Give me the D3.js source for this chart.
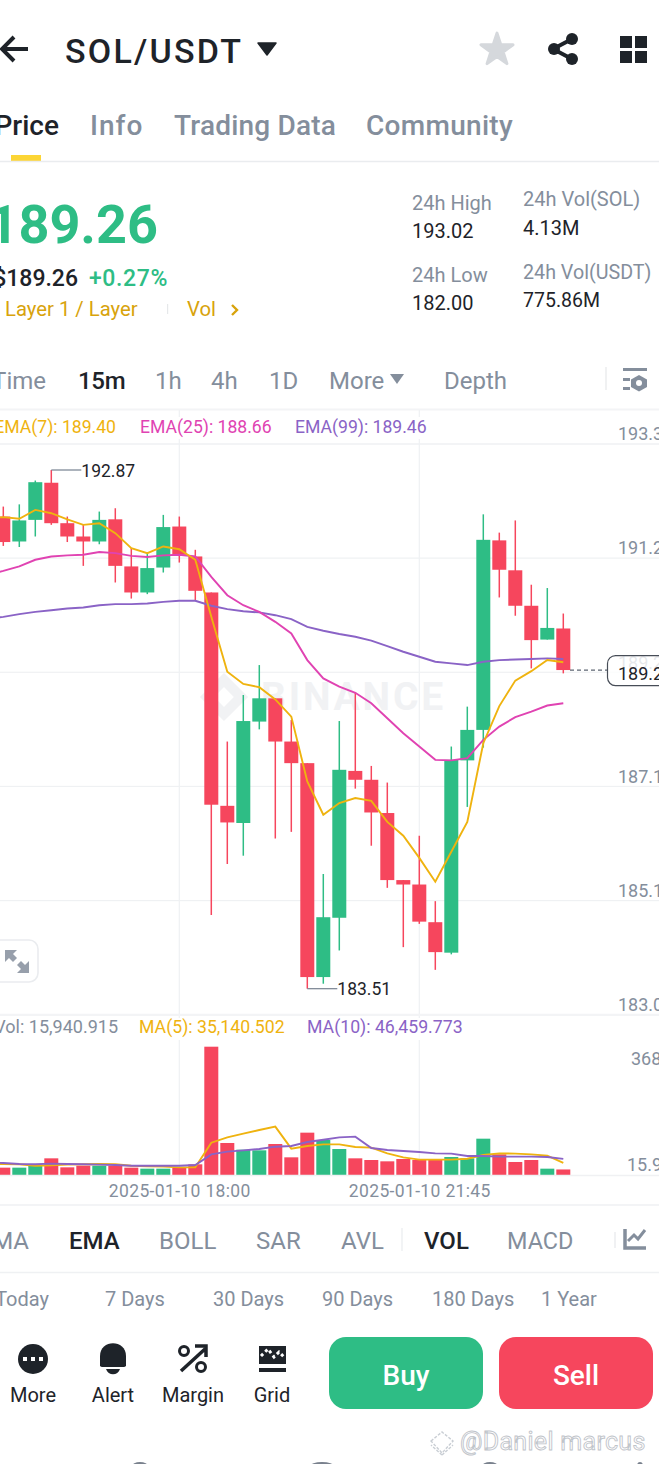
<!DOCTYPE html>
<html>
<head>
<meta charset="utf-8">
<script src="https://cdn.jsdelivr.net/npm/d3@7/dist/d3.min.js"></script>
<style>
html, body { margin: 0; padding: 0; background: #fff; overflow: hidden; }
svg { display: block; }
text { font-family: Roboto, sans-serif; }
</style>
</head>
<body>
<svg id="chart" width="659" height="1464" viewBox="0 0 659 1464"></svg>
<script>
// candles, oldest first (15m)
var opens  = [192.03,191.58,191.97,192.64,191.91,191.67,191.58,191.98,191.13,190.66,191.11,191.85,191.31,190.66,186.81,186.50,188.33,188.75,187.97,187.58,183.72,184.79,187.44,187.28,186.68,185.47,185.39,184.71,184.16,187.63,188.18,191.60,191.06,190.42,189.81,190.01];
var closes = [191.57,191.96,192.65,191.91,191.67,191.58,191.97,191.14,190.66,191.10,191.84,191.34,190.69,186.83,186.51,188.34,188.75,187.97,187.58,183.72,184.80,187.46,187.28,186.69,185.47,185.39,184.72,184.17,187.64,188.18,191.61,191.07,190.42,189.80,190.02,189.26];
var highs  = [192.21,192.25,192.68,192.87,192.03,191.88,192.12,192.18,191.46,191.37,192.06,192.03,191.43,190.66,187.97,188.81,189.35,188.75,188.36,187.58,185.58,188.34,188.86,187.53,187.23,185.47,186.27,185.09,187.88,188.60,192.07,191.74,191.96,190.80,190.74,190.28];
var lows   = [191.50,191.48,191.67,191.88,191.57,191.14,191.53,190.84,190.55,190.63,191.02,191.20,190.52,184.84,185.76,185.91,188.19,186.22,186.34,183.51,183.60,184.20,187.12,186.09,185.33,184.26,184.68,183.85,184.13,186.79,187.86,190.57,190.24,189.29,189.81,189.20];

// the first value of each line belongs to the candle just off the left edge
var ema7  = [192.00,192.02,191.99,192.15,192.09,191.98,191.88,191.91,191.73,191.46,191.37,191.49,191.44,191.25,190.22,189.23,189.01,188.95,188.73,188.42,187.25,186.65,186.86,186.95,186.90,186.52,186.27,185.87,185.44,185.98,186.52,187.94,188.61,189.07,189.24,189.44,189.40];
var ema25 = [190.98,191.05,191.13,191.25,191.31,191.33,191.34,191.39,191.37,191.32,191.30,191.33,191.34,191.31,190.94,190.61,190.43,190.31,190.13,189.92,189.44,189.11,188.96,188.85,188.66,188.39,188.12,187.88,187.64,187.63,187.67,188.00,188.24,188.41,188.51,188.62,188.66];
var ema99 = [190.18,190.22,190.27,190.31,190.34,190.37,190.39,190.43,190.45,190.45,190.46,190.49,190.51,190.51,190.42,190.36,190.32,190.30,190.25,190.18,190.04,189.97,189.91,189.86,189.79,189.69,189.59,189.50,189.41,189.38,189.35,189.41,189.44,189.45,189.46,189.47,189.46];

// volume in thousands
var volumes = [21.1,21.1,25.9,47.9,22.0,26.8,26.8,26.8,21.1,18.2,18.2,21.1,30.7,368.8,92.0,72.8,70.9,89.1,50.8,121.7,100.6,74.7,47.9,43.1,39.3,46.0,43.1,43.1,51.7,47.9,104.4,59.4,37.4,43.1,18.2,15.94];
var ma5  = [31.0,31.6,30.7,26.8,27.8,29.7,30.7,31.6,30.7,26.8,24.9,24.0,22.0,22.0,92.9,108.3,118.8,129.3,138.9,75.7,83.3,88.1,88.1,80.5,78.6,62.3,50.8,44.1,44.1,44.1,46.9,57.5,62.3,61.3,59.4,55.6,35.14];
var ma10 = [36.0,34.5,31.6,30.7,32.6,31.6,30.7,29.7,28.7,26.8,26.8,26.8,26.8,28.7,59.4,67.1,70.9,74.7,81.4,83.3,94.8,101.5,108.3,110.2,77.6,71.9,69.0,66.1,62.3,61.3,54.6,54.6,52.7,52.7,52.7,51.7,46.46];

var priceTicks = [193.34,191.28,189.22,187.16,185.10,183.04];
var volTicks = [368.8,15.94];
var volLabels = ["368.807K","15.940K"];
var dateIdx = [11,26];
var dateLabels = ["2025-01-10 18:00","2025-01-10 21:45"];
var lastPrice = 189.26;
var maxPrice = 192.87;
var minPrice = 183.51;

var GREEN = "#2ebd85", RED = "#f6465d", DARK = "#1e2329", GRAY = "#848e9c", LINE = "#eff1f3";
var YEL = "#efb30f", PINK = "#e043b2", PUR = "#8a63c6", GOLD = "#d8a30c";

var svg = d3.select("#chart");
var n = opens.length;
var x = d3.scaleLinear().domain([0, 35]).range([3.3, 563.3]);
var y = d3.scaleLinear().domain([192.87, 183.51]).range([470, 988.7]);
var v = d3.scaleLinear().domain([0, 368.8]).range([1175, 1046.7]);

function txt(px, py, s, size, fill, weight, anchor) {
    return svg.append("text").attr("x", px).attr("y", py).text(s)
        .attr("font-size", size).attr("fill", fill)
        .attr("font-weight", weight || 400).attr("text-anchor", anchor || "start");
}
function hline(py, w, c) {
    svg.append("rect").attr("x", 0).attr("y", py - w / 2).attr("width", 659).attr("height", w).attr("fill", c);
}
function vline(px, y0, y1, c) {
    svg.append("line").attr("x1", px).attr("x2", px).attr("y1", y0).attr("y2", y1).attr("stroke", c).attr("stroke-width", 1.2);
}

// header
svg.append("path").attr("d", "M28 49H2M14 37L2 49L14 61").attr("fill", "none").attr("stroke", DARK).attr("stroke-width", 4);
txt(65, 63, "SOL/USDT", 34, DARK, 500).attr("letter-spacing", 2.2);
svg.append("path").attr("d", "M258 43H276L267 55Z").attr("fill", DARK).attr("stroke", DARK).attr("stroke-width", 1.5).attr("stroke-linejoin", "round");
svg.append("path").attr("transform", "translate(497,50)").attr("d", d3.symbol(d3.symbolStar, 320)())
    .attr("fill", "#d5d8dc").attr("stroke", "#d5d8dc").attr("stroke-width", 3).attr("stroke-linejoin", "round");
svg.append("path").attr("d", "M572 39L553 49L572 59").attr("fill", "none").attr("stroke", DARK).attr("stroke-width", 4);
[[572, 39], [554, 49], [572, 59]].forEach(function (c) {
    svg.append("circle").attr("cx", c[0]).attr("cy", c[1]).attr("r", 6).attr("fill", DARK);
});
[[620, 36], [635, 36], [620, 51], [635, 51]].forEach(function (c) {
    svg.append("rect").attr("x", c[0]).attr("y", c[1]).attr("width", 12).attr("height", 12).attr("fill", DARK);
});

// tabs
txt(59, 135, "Price", 28, DARK, 500, "end");
txt(90, 135, "Info", 28, GRAY, 500).attr("letter-spacing", 1);
txt(174, 135, "Trading Data", 28, GRAY, 500).attr("letter-spacing", 0.2);
txt(366, 135, "Community", 28, GRAY, 500).attr("letter-spacing", 0.3);
svg.append("rect").attr("x", 11).attr("y", 155).attr("width", 30).attr("height", 6).attr("fill", "#fcd535");
hline(161.5, 1.5, "#eaecef");

// price block
txt(158, 243, "189.26", 54, GREEN, 700, "end");
txt(78, 286, "$189.26", 23, DARK, 500, "end");
txt(89, 286, "+0.27%", 23, GREEN, 500).attr("letter-spacing", 0.6);
txt(5, 316, "Layer 1 / Layer", 20.3, GOLD);
svg.append("rect").attr("x", 167).attr("y", 304).attr("width", 1.2).attr("height", 10).attr("fill", "#e6e8ea");
txt(187, 316, "Vol", 20.3, GOLD);
svg.append("path").attr("d", "M232 305L237 310L232 315").attr("fill", "none").attr("stroke", GOLD).attr("stroke-width", 2.4);

txt(412, 210, "24h High", 20, GRAY);
txt(412, 238, "193.02", 20, DARK);
txt(412, 282, "24h Low", 20, GRAY);
txt(412, 310, "182.00", 20, DARK);
txt(523, 206, "24h Vol(SOL)", 20, GRAY);
txt(523, 235, "4.13M", 20, DARK);
txt(523, 279, "24h Vol(USDT)", 19.7, GRAY);
txt(523, 307, "775.86M", 19.5, DARK);

// interval row
txt(46, 389, "Time", 24, GRAY, 400, "end");
txt(78, 389, "15m", 24, DARK, 500).attr("letter-spacing", -0.3);
txt(155, 389, "1h", 24, GRAY);
txt(211, 389, "4h", 24, GRAY);
txt(269, 389, "1D", 24, GRAY);
txt(329, 389, "More", 24, GRAY);
svg.append("path").attr("d", "M390 374H404L397 384Z").attr("fill", GRAY);
txt(444, 389, "Depth", 24, GRAY);
vline(606, 367, 390, "#e6e8ea");
svg.append("rect").attr("x", 623).attr("y", 368).attr("width", 24).attr("height", 3).attr("fill", GRAY);
svg.append("rect").attr("x", 623).attr("y", 378).attr("width", 7).attr("height", 3).attr("fill", GRAY);
svg.append("rect").attr("x", 623).attr("y", 387).attr("width", 7).attr("height", 3).attr("fill", GRAY);
svg.append("path").attr("d", "M639 375L647 379.5V387L639 391.5L631 387V379.5Z").attr("fill", GRAY);
svg.append("circle").attr("cx", 639).attr("cy", 383).attr("r", 3).attr("fill", "#fff");
hline(409.5, 2, "#f3f4f6");

// grid
priceTicks.forEach(function (p, i) {
    hline(y(p), i == 0 || i == 5 ? 2 : 1.2, i == 0 || i == 5 ? "#f3f4f6" : LINE);
});
dateIdx.forEach(function (d) { vline(x(d), 410, 1175, LINE); });

// legend
function legendBack(px, w) {
    svg.append("rect").attr("x", px).attr("y", 417).attr("width", w).attr("height", 22).attr("fill", "#fff");
}
legendBack(0, 118); legendBack(138, 135); legendBack(293, 135);
txt(116, 433, "EMA(7): 189.40", 17.6, YEL, 400, "end");
txt(140, 433, "EMA(25): 188.66", 17.6, PINK);
txt(295, 433, "EMA(99): 189.46", 17.6, PUR);

// watermark
svg.append("text").attr("x", 261).attr("y", 710).text("BINANCE").attr("font-size", 39).attr("font-weight", 700).attr("letter-spacing", 2.8).attr("fill", "#f1f2f4");
svg.append("path").attr("transform", "translate(224,697) rotate(45)").attr("d", "M-17 -17H17V17H-17ZM-7 -7V7H7V-7Z").attr("fill", "#f1f2f4").attr("fill-rule", "evenodd");

// price axis labels
var priceAxis = d3.axisRight(y).tickValues(priceTicks).tickSize(0).tickPadding(0).tickFormat(d3.format(".2f"));
var pa = svg.append("g").attr("transform", "translate(618,-10)").call(priceAxis);
pa.select(".domain").remove();
pa.selectAll("text").attr("font-size", 18).attr("fill", GRAY).style("font-family", "Roboto, sans-serif");

// candles
var idx = d3.range(n);
function col(i) { return closes[i] >= opens[i] ? GREEN : RED; }
svg.append("g").selectAll("line").data(idx).join("line")
    .attr("x1", function (i) { return x(i); }).attr("x2", function (i) { return x(i); })
    .attr("y1", function (i) { return y(highs[i]); }).attr("y2", function (i) { return y(lows[i]); })
    .attr("stroke", col).attr("stroke-width", 1.5);
svg.append("g").selectAll("rect").data(idx).join("rect")
    .attr("x", function (i) { return x(i) - 7; }).attr("width", 14)
    .attr("y", function (i) { return y(Math.max(opens[i], closes[i])); })
    .attr("height", function (i) { return Math.abs(y(opens[i]) - y(closes[i])); })
    .attr("fill", col);

// price lines
var priceLine = d3.line().x(function (d, i) { return x(i - 1); }).y(function (d) { return y(d); });
[[ema99, PUR], [ema25, PINK], [ema7, YEL]].forEach(function (s) {
    svg.append("path").attr("d", priceLine(s[0])).attr("fill", "none").attr("stroke", s[1]).attr("stroke-width", 1.9);
});

// high / low notes
[[maxPrice, "192.87", 3], [minPrice, "183.51", 19]].forEach(function (m) {
    var mx = x(m[2]);
    svg.append("line").attr("x1", mx).attr("x2", mx + 30).attr("y1", y(m[0])).attr("y2", y(m[0])).attr("stroke", "#76808f").attr("stroke-width", 1.2);
    txt(mx + 30, y(m[0]) + 6.5, m[1], 17.5, DARK);
});

// last price tag
svg.append("line").attr("x1", 570).attr("x2", 607).attr("y1", y(lastPrice)).attr("y2", y(lastPrice))
    .attr("stroke", "#5e6673").attr("stroke-width", 1.2).attr("stroke-dasharray", "4 3");
svg.append("rect").attr("x", 607.5).attr("y", y(lastPrice) - 14.5).attr("width", 80).attr("height", 30).attr("rx", 8)
    .attr("fill", "#fff").attr("fill-opacity", 0.8).attr("stroke", "#474d57").attr("stroke-width", 1.2);
txt(618, y(lastPrice) + 10, "189.26", 18, DARK);

// expand button
svg.append("rect").attr("x", -12).attr("y", 940).attr("width", 50).attr("height", 42).attr("rx", 9)
    .attr("fill", "#fff").attr("stroke", "#eaecef").attr("stroke-width", 1.6);
svg.append("path").attr("d", "M5 950H17L13 954L17 958L13 962L9 958L5 962ZM29 973H17L21 969L17 965L21 961L25 965L29 961Z").attr("fill", "#979fab");

// volume pane
hline(1015, 2, "#f3f4f6");
svg.append("rect").attr("x", 137).attr("y", 1018).attr("width", 150).attr("height", 22).attr("fill", "#fff");
svg.append("rect").attr("x", 305).attr("y", 1018).attr("width", 160).attr("height", 22).attr("fill", "#fff");
txt(118, 1033, "Vol: 15,940.915", 18, GRAY, 400, "end");
txt(139, 1033, "MA(5): 35,140.502", 17.7, YEL);
txt(307, 1033, "MA(10): 46,459.773", 17.7, PUR);

var va = svg.append("g").attr("transform", "translate(627,0)")
    .call(d3.axisRight(v).tickValues(volTicks).tickSize(0).tickPadding(0).tickFormat(function (d, i) { return volLabels[i]; }));
va.select(".domain").remove();
va.selectAll("text").attr("font-size", 18).attr("fill", GRAY).style("font-family", "Roboto, sans-serif");
va.selectAll(".tick").attr("transform", function (d, i) { return i == 0 ? "translate(4,1059)" : "translate(0,1165)"; });

svg.append("g").selectAll("rect").data(idx).join("rect")
    .attr("x", function (i) { return x(i) - 7; }).attr("width", 14)
    .attr("y", function (i) { return v(volumes[i]); })
    .attr("height", function (i) { return v(0) - v(volumes[i]); })
    .attr("fill", col);
var volLine = d3.line().x(function (d, i) { return x(i - 1); }).y(function (d) { return v(d); });
[[ma5, YEL], [ma10, PUR]].forEach(function (s) {
    svg.append("path").attr("d", volLine(s[0])).attr("fill", "none").attr("stroke", s[1]).attr("stroke-width", 1.9);
});
hline(1175.5, 1.5, "#f0f1f3");

var xa = svg.append("g").attr("transform", "translate(0,1191)")
    .call(d3.axisBottom(x).tickValues(dateIdx).tickSize(0).tickPadding(0).tickFormat(function (d, i) { return dateLabels[i]; }));
xa.select(".domain").remove();
xa.selectAll("text").attr("font-size", 17.5).attr("letter-spacing", 0.35).attr("fill", GRAY).attr("dy", 0).attr("y", 6).style("font-family", "Roboto, sans-serif");
xa.selectAll("text").attr("text-anchor", "middle").attr("x", 0);

// indicator row
hline(1205, 1.5, "#eff1f3");
txt(29, 1249, "MA", 24, GRAY, 400, "end");
txt(69, 1249, "EMA", 24, DARK, 500);
txt(159, 1249, "BOLL", 24, GRAY);
txt(256, 1249, "SAR", 24, GRAY);
txt(341, 1249, "AVL", 24, GRAY);
vline(402, 1228, 1251, "#eaecef");
txt(424, 1249, "VOL", 24, DARK, 500);
txt(507, 1249, "MACD", 23.4, GRAY);
svg.append("rect").attr("x", 614).attr("y", 1232).attr("width", 2).attr("height", 16).attr("fill", "#f0f1f3");
svg.append("path").attr("d", "M625 1229V1248H646").attr("fill", "none").attr("stroke", GRAY).attr("stroke-width", 3.5);
svg.append("path").attr("d", "M628 1241L634 1235L638 1239L645 1230").attr("fill", "none").attr("stroke", GRAY).attr("stroke-width", 3);
hline(1272.5, 1.5, "#eff1f3");

// range row
txt(49, 1306, "Today", 20, GRAY, 400, "end");
txt(105, 1306, "7 Days", 20, GRAY);
txt(213, 1306, "30 Days", 20, GRAY);
txt(322, 1306, "90 Days", 20, GRAY);
txt(432, 1306, "180 Days", 20, GRAY);
txt(541, 1306, "1 Year", 20, GRAY);

// bottom actions
svg.append("circle").attr("cx", 33).attr("cy", 1359).attr("r", 15).attr("fill", DARK);
[25, 33, 41].forEach(function (cx) {
    svg.append("rect").attr("x", cx - 2).attr("y", 1357).attr("width", 4).attr("height", 4).attr("fill", "#fff");
});
svg.append("path").attr("d", "M100 1366V1356C100 1339 126 1339 126 1356V1366Z").attr("fill", DARK);
svg.append("rect").attr("x", 100).attr("y", 1363).attr("width", 26).attr("height", 4).attr("rx", 2).attr("fill", DARK);
svg.append("path").attr("d", "M106 1369H120C118 1376 108 1376 106 1369Z").attr("fill", DARK);
svg.append("path").attr("d", "M181 1371L205 1349M195 1346H206V1357").attr("fill", "none").attr("stroke", DARK).attr("stroke-width", 3.5);
svg.append("circle").attr("cx", 184).attr("cy", 1351).attr("r", 4.5).attr("fill", "none").attr("stroke", DARK).attr("stroke-width", 3);
svg.append("circle").attr("cx", 201).attr("cy", 1367).attr("r", 4.5).attr("fill", "none").attr("stroke", DARK).attr("stroke-width", 3);
svg.append("path").attr("d", "M259 1346H286V1364H259Z").attr("fill", DARK);
svg.append("path").attr("d", "M261 1356L268 1349L274 1357L279 1352L285 1358").attr("fill", "none").attr("stroke", "#fff").attr("stroke-width", 3).attr("stroke-dasharray", "3 3");
svg.append("rect").attr("x", 259).attr("y", 1368).attr("width", 27).attr("height", 4).attr("fill", DARK);
[["More", 33], ["Alert", 113], ["Margin", 193], ["Grid", 272]].forEach(function (b) {
    txt(b[1], 1402, b[0], 20, DARK, 400, "middle");
});

svg.append("rect").attr("x", 329).attr("y", 1337).attr("width", 154).attr("height", 72).attr("rx", 17).attr("fill", GREEN);
svg.append("rect").attr("x", 499).attr("y", 1337).attr("width", 154).attr("height", 72).attr("rx", 17).attr("fill", RED);
txt(406, 1385, "Buy", 28, "#fff", 500, "middle");
txt(576, 1385, "Sell", 28, "#fff", 500, "middle");

// page watermark and cut-off nav icons
svg.append("path").attr("d", "M431 1441L442 1432L453 1441L442 1453ZM442 1455L431 1445M442 1455L453 1445")
    .attr("fill", "none").attr("stroke", "#c9ced4").attr("stroke-width", 1.4).attr("stroke-dasharray", "3 1.5");
txt(460, 1450, "@Daniel marcus", 25, "#fff").attr("letter-spacing", 0.3).attr("stroke", "#bfc4ca").attr("stroke-width", 0.9);
[[140, 8], [322, 12], [490, 8], [640, 3]].forEach(function (t) {
    svg.append("ellipse").attr("cx", t[0]).attr("cy", 1466).attr("rx", t[1]).attr("ry", 4).attr("fill", "#79818d");
});
</script>
</body>
</html>
